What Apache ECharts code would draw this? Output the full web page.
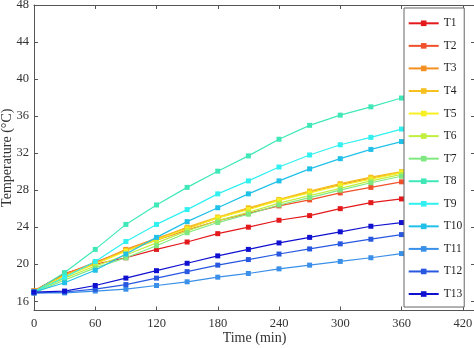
<!DOCTYPE html>
<html><head><meta charset="utf-8">
<script src="https://cdn.jsdelivr.net/npm/echarts@6/dist/echarts.min.js"></script>
<style>html,body{margin:0;padding:0;background:#fff}#c{width:474px;height:348px}</style>
</head><body><div id="c"></div>
<script>
const times = [0, 30, 60, 90, 120, 150, 180, 210, 240, 270, 300, 330, 360];
const T1  = [17.1, 19.0, 20.0, 20.7, 21.6, 22.4, 23.3, 24.0, 24.75, 25.25, 26.0, 26.65, 27.05];
const T2  = [17.1, 18.9, 20.2, 21.5, 22.6, 23.7, 24.7, 25.5, 26.3, 26.95, 27.7, 28.3, 28.9];
const T3  = [17.1, 18.9, 20.1, 21.6, 22.8, 23.9, 25.0, 26.0, 26.9, 27.8, 28.6, 29.3, 29.9];
const T4  = [17.1, 18.8, 20.1, 21.5, 22.7, 24.0, 25.1, 26.1, 27.0, 27.9, 28.7, 29.4, 30.0];
const T5  = [17.0, 18.7, 20.0, 21.4, 22.6, 23.8, 25.0, 25.9, 26.9, 27.7, 28.5, 29.2, 29.9];
const T6  = [17.0, 18.5, 19.8, 21.0, 22.3, 23.6, 24.7, 25.6, 26.6, 27.4, 28.2, 29.0, 29.7];
const T7  = [16.9, 18.3, 19.6, 20.7, 22.0, 23.4, 24.5, 25.4, 26.4, 27.2, 28.0, 28.8, 29.5];
const T8  = [17.0, 19.1, 21.6, 24.3, 26.4, 28.3, 30.05, 31.7, 33.5, 35.0, 36.1, 37.0, 37.95];
const T9  = [17.0, 18.6, 20.3, 22.45, 24.3, 25.9, 27.6, 29.0, 30.5, 31.8, 32.9, 33.7, 34.6];
const T10 = [17.0, 18.0, 19.35, 21.1, 22.9, 24.6, 26.1, 27.6, 29.0, 30.3, 31.4, 32.4, 33.25];
const T11 = [16.9, 16.9, 17.1, 17.3, 17.7, 18.1, 18.6, 19.0, 19.5, 19.9, 20.3, 20.7, 21.15];
const T12 = [16.9, 17.0, 17.3, 17.8, 18.5, 19.2, 19.9, 20.5, 21.1, 21.65, 22.2, 22.7, 23.2];
const T13 = [17.0, 17.1, 17.7, 18.5, 19.3, 20.1, 20.9, 21.6, 22.3, 22.9, 23.5, 24.1, 24.5];
const seriesNames = ['T1','T2','T3','T4','T5','T6','T7','T8','T9','T10','T11','T12','T13'];
const seriesValues = [T1,T2,T3,T4,T5,T6,T7,T8,T9,T10,T11,T12,T13];
const xTicks = [0, 60, 120, 180, 240, 300, 360, 420];
const yTicks = [16, 20, 24, 28, 32, 36, 40, 44, 48];
const xTitle = 'Time (min)';
const yTitle = 'Temperature (°C)';

const colors = ['#e3191c','#f0502a','#f39020','#f5c020','#f7ef20','#c0ef40','#80e880',
                '#40e8b8','#30f0f0','#20c0e8','#3a90e8','#2858e0','#1010d0'];
const FONT = 'Liberation Serif';
const axisCol = '#555';

const chart = echarts.init(document.getElementById('c'), null, {renderer:'canvas'});
const baseX = {
  type:'value', min:0, max:432,
  axisLine:{show:true, onZero:false, lineStyle:{color:axisCol, width:1}},
  axisTick:{show:true, inside:true, length:4, customValues:xTicks, lineStyle:{color:axisCol}},
  splitLine:{show:false}
};
const baseY = {
  type:'value', min:15, max:48,
  axisLine:{show:true, onZero:false, lineStyle:{color:axisCol, width:1}},
  axisTick:{show:true, inside:true, length:4, customValues:yTicks, lineStyle:{color:axisCol}},
  splitLine:{show:false}
};
chart.setOption({
  animation:false,
  backgroundColor:'#fff',
  grid:{left:34, right:-1, top:5, bottom:37.5, containLabel:false, outerBoundsMode:'none'},
  xAxis:[
    Object.assign({}, baseX, {position:'bottom',
      axisLabel:{show:true, customValues:xTicks, margin:7, fontFamily:FONT, fontSize:12.5, color:'#333'},
      name:xTitle, nameLocation:'middle', nameGap:20.5, nameMoveOverlap:false,
      nameTextStyle:{fontFamily:FONT, fontSize:14, color:'#333'}}),
    Object.assign({}, baseX, {position:'top', axisLabel:{show:false}})
  ],
  yAxis:[
    Object.assign({}, baseY, {position:'left',
      axisLabel:{show:true, customValues:yTicks, margin:5, fontFamily:FONT, fontSize:12.5, color:'#333'},
      name:yTitle, nameLocation:'middle', nameGap:20, nameRotate:90, nameMoveOverlap:false,
      nameTextStyle:{fontFamily:FONT, fontSize:14, color:'#333'}}),
    Object.assign({}, baseY, {position:'right', axisLabel:{show:false}})
  ],
  legend:{
    orient:'vertical', left:404, top:8,
    itemWidth:30, itemHeight:7, itemGap:10.56,
    padding:[9.3, 2, 7, 3.7],
    backgroundColor:'#fff', borderColor:'#666', borderWidth:1, borderRadius:0,
    textStyle:{fontFamily:FONT, fontSize:11.5, color:'#222', lineHeight:12},
    data:seriesNames
  },
  series: seriesNames.map((n,i)=>({
    name:n, type:'line', xAxisIndex:0, yAxisIndex:0,
    symbol:'rect', symbolSize:5, showSymbol:true,
    lineStyle:{width:1.2, color:colors[i]},
    itemStyle:{color:colors[i]},
    emphasis:{disabled:true},
    data: times.map((t,k)=>[t, seriesValues[i][k]])
  }))
});
</script>
</body></html>
